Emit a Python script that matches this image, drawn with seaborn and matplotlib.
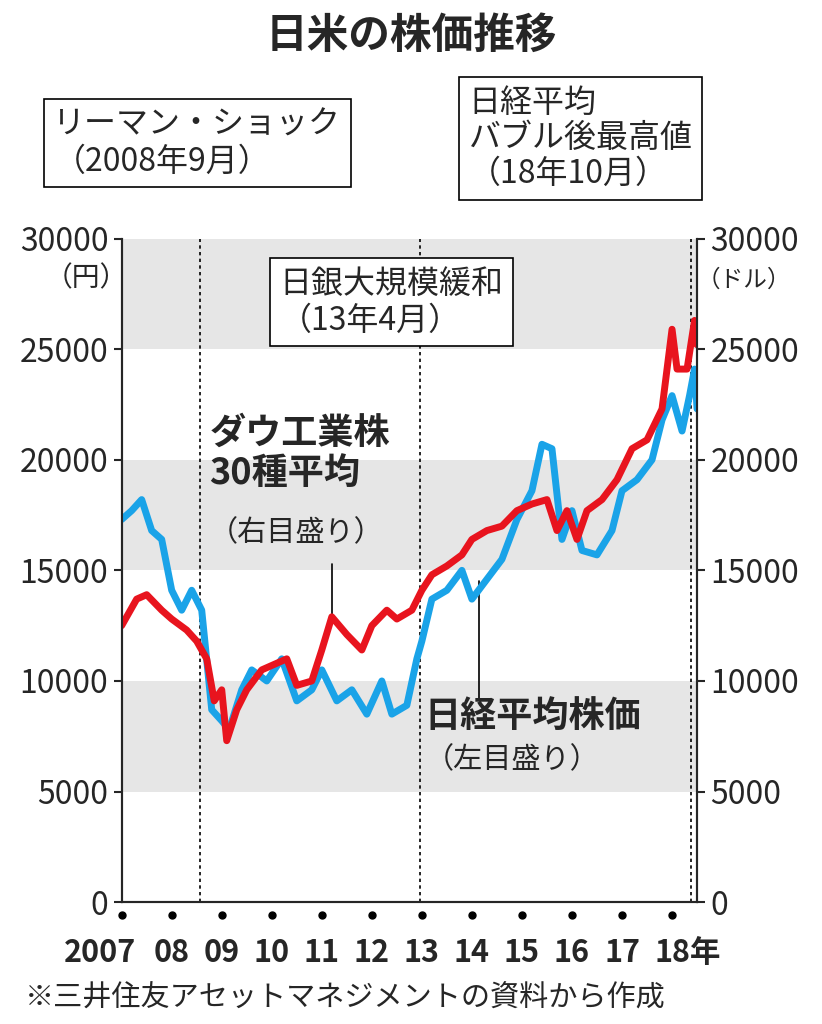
import numpy as np
import pandas as pd
import seaborn as sns
import matplotlib.pyplot as plt

sns.set_style("white")
plt.rcParams['font.family'] = ['Noto Sans CJK JP', 'DejaVu Sans']

# Dow (red, right axis) and Nikkei (blue, left axis), x in decimal years
dow_x = [2007.0, 2007.3, 2007.5, 2007.8, 2008.0, 2008.3, 2008.5, 2008.7, 2008.85, 2009.0, 2009.1,
         2009.3, 2009.5, 2009.8, 2010.0, 2010.3, 2010.5, 2010.8, 2011.0, 2011.2, 2011.5, 2011.8,
         2012.0, 2012.3, 2012.5, 2012.8, 2013.0, 2013.2, 2013.5, 2013.8, 2014.0, 2014.3, 2014.6,
         2014.9, 2015.2, 2015.5, 2015.7, 2015.9, 2016.1, 2016.3, 2016.6, 2016.9, 2017.2, 2017.5,
         2017.8, 2018.0, 2018.1, 2018.3, 2018.45, 2018.5]
dow_y = [12500, 13700, 13900, 13200, 12800, 12300, 11800, 11000, 9100, 9600, 7300,
         8700, 9600, 10500, 10700, 11000, 9800, 10000, 11400, 12900, 12100, 11400,
         12500, 13200, 12800, 13200, 14100, 14800, 15200, 15700, 16400, 16800, 17000,
         17700, 18000, 18200, 16800, 17700, 16400, 17700, 18200, 19100, 20500, 20900,
         22300, 25900, 24100, 24100, 26300, 25200]
nk_x = [2007.0, 2007.2, 2007.4, 2007.6, 2007.8, 2008.0, 2008.2, 2008.4, 2008.6, 2008.8, 2009.0,
        2009.15, 2009.4, 2009.6, 2009.9, 2010.2, 2010.5, 2010.8, 2011.0, 2011.3, 2011.6, 2011.9,
        2012.2, 2012.4, 2012.7, 2012.9, 2013.0, 2013.2, 2013.5, 2013.8, 2014.0, 2014.3, 2014.6,
        2014.9, 2015.2, 2015.4, 2015.6, 2015.8, 2016.0, 2016.2, 2016.5, 2016.8, 2017.0, 2017.3,
        2017.6, 2017.8, 2018.0, 2018.2, 2018.35, 2018.45, 2018.5]
nk_y = [17300, 17700, 18200, 16800, 16400, 14100, 13200, 14100, 13200, 8700, 8200,
        7800, 9600, 10500, 10000, 11000, 9100, 9600, 10500, 9100, 9600, 8500,
        10000, 8500, 8900, 11000, 11800, 13700, 14100, 15000, 13700, 14600, 15500,
        17300, 18600, 20700, 20500, 16400, 17700, 15900, 15700, 16800, 18600, 19100,
        20000, 21800, 22900, 21300, 22900, 24100, 22300]
years = list(range(2007, 2019))
year_labels = ['2007', '08', '09', '10', '11', '12', '13', '14', '15', '16', '17', '18年']
events_x = [2008.56, 2012.96, 2018.38]
y_ticks = [0, 5000, 10000, 15000, 20000, 25000, 30000]

fig = plt.figure(figsize=(8.22, 10.24), dpi=100)
ax = fig.add_axes([0.148, 0.119, 0.700, 0.648])
for lo in (5000, 15000, 25000):
    ax.axhspan(lo, lo + 5000, color='#e6e6e6', lw=0, zorder=0)

df_nk = pd.DataFrame({'x': nk_x, 'y': nk_y})
df_dow = pd.DataFrame({'x': dow_x, 'y': dow_y})
sns.lineplot(data=df_nk, x='x', y='y', ax=ax, color='#1aa3e8', lw=5, zorder=3)
sns.lineplot(data=df_dow, x='x', y='y', ax=ax, color='#e8141e', lw=5, zorder=4)

for ex in events_x:
    ax.axvline(ex, color='black', lw=1.2, ls=(0, (2, 2)), zorder=2)

ax.set_xlim(2007, 2018.5)
ax.set_ylim(0, 30000)
ax.set_xlabel('')
ax.set_ylabel('')
ax.set_yticks(y_ticks)
ax.set_yticklabels([str(v) for v in y_ticks], fontsize=23)
ax.tick_params(axis='y', length=6, width=1.5, direction='out')
ax.set_xticks([])
ax2 = ax.twinx()
ax2.set_ylim(0, 30000)
ax2.set_yticks(y_ticks)
ax2.set_yticklabels([str(v) for v in y_ticks], fontsize=23)
ax2.tick_params(axis='y', length=6, width=1.5, direction='out')
for a in (ax, ax2):
    for s in a.spines.values():
        s.set_linewidth(1.5)
    a.spines['top'].set_visible(False)

for yr, lab in zip(years, year_labels):
    ax.plot(yr, -600, 'o', color='black', ms=5, clip_on=False)
    ha, xx = 'center', yr
    if lab == '2007':
        ha, xx = 'right', yr + 0.28
    elif lab == '18年':
        ha, xx = 'left', yr - 0.35
    ax.text(xx, -2300, lab, ha=ha, va='center', fontsize=22, fontweight='bold', clip_on=False)

fig.text(0.105, 0.72, '（円）', fontsize=20, ha='center')
fig.text(0.905, 0.72, '（ドル）', fontsize=17, ha='center')

fig.text(0.5, 0.965, '日米の株価推移', fontsize=30, fontweight='bold', ha='center', va='center')
box = dict(boxstyle='square,pad=0.3', fc='white', ec='black', lw=1.2)
fig.text(0.065, 0.86, 'リーマン・ショック\n（2008年9月）', fontsize=23, va='center', bbox=box, linespacing=1.2)
fig.text(0.57, 0.865, '日経平均\nバブル後最高値\n（18年10月）', fontsize=23, va='center', bbox=box, linespacing=1.15)
fig.text(0.34, 0.705, '日銀大規模緩和\n（13年4月）', fontsize=23, va='center', bbox=box, linespacing=1.2, zorder=5)

ax.text(2008.75, 20300, 'ダウ工業株\n30種平均', fontsize=26, fontweight='bold', va='center', linespacing=1.1)
ax.text(2008.75, 16700, '（右目盛り）', fontsize=21, va='center')
ax.plot([2011.2, 2011.2], [12900, 15300], color='black', lw=1.2)
ax.text(2013.05, 8400, '日経平均株価', fontsize=26, fontweight='bold', va='center')
ax.text(2013.05, 6400, '（左目盛り）', fontsize=21, va='center')
ax.plot([2014.15, 2014.15], [9200, 14500], color='black', lw=1.2)

fig.text(0.03, 0.025, '※三井住友アセットマネジメントの資料から作成', fontsize=21, va='center')
fig.savefig('out.png', dpi=100)
